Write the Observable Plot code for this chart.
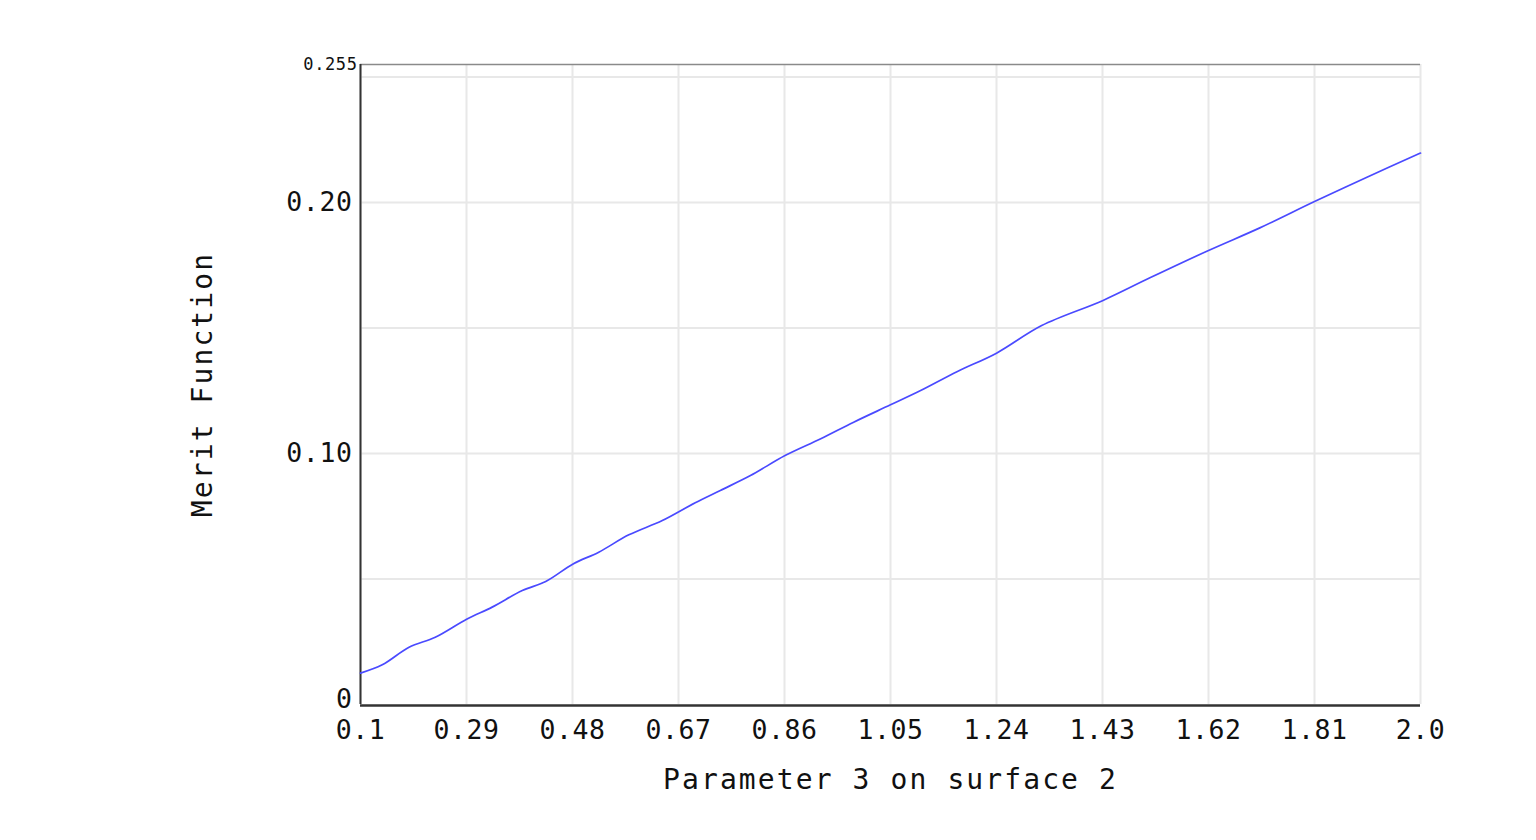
<!DOCTYPE html>
<html>
<head>
<meta charset="utf-8">
<script src="https://cdn.jsdelivr.net/npm/d3@7"></script>
<script src="https://cdn.jsdelivr.net/npm/@observablehq/plot@0.6"></script>
<style>
  html, body { margin: 0; padding: 0; background: #fff; }
</style>
</head>
<body>
<div id="chart"></div>
<script>
const paramValues = [0.1, 0.139, 0.187, 0.234, 0.291, 0.336, 0.390, 0.432, 0.481, 0.527, 0.581, 0.641, 0.700, 0.745, 0.799, 0.861, 0.925, 0.984, 1.050, 1.104, 1.170, 1.240, 1.321, 1.431, 1.515, 1.620, 1.712, 1.810, 1.904, 2.0];
const meritValues = [0.0125, 0.0158, 0.0228, 0.0268, 0.0341, 0.0388, 0.0454, 0.0490, 0.0560, 0.0607, 0.0676, 0.0733, 0.0804, 0.0853, 0.0912, 0.0992, 0.1059, 0.1125, 0.1194, 0.1251, 0.1327, 0.1400, 0.1510, 0.1610, 0.1700, 0.1809, 0.1899, 0.2004, 0.2101, 0.2197];
const xTicks = [0.1, 0.29, 0.48, 0.67, 0.86, 1.05, 1.24, 1.43, 1.62, 1.81, 2.0];
const xTickLabels = ["0.1", "0.29", "0.48", "0.67", "0.86", "1.05", "1.24", "1.43", "1.62", "1.81", "2.0"];
const yGridValues = [0.05, 0.10, 0.15, 0.20, 0.25];
const yTicks = [0.10, 0.20];
const yTickLabels = ["0.10", "0.20"];
const yZeroTick = [0];
const yZeroLabel = ["0"];
const yMaxTick = [0.255];
const yMaxLabel = ["0.255"];
const xTitle = "Parameter 3 on surface 2";
const yTitle = "Merit Function";

const data = paramValues.map((x, i) => ({x, y: meritValues[i]}));

const chart = Plot.plot({
  width: 1536,
  height: 840,
  marginLeft: 360,
  marginRight: 116,
  marginTop: 64,
  marginBottom: 136,
  style: {fontFamily: "'DejaVu Sans Mono', monospace", background: "#fff", color: "#111"},
  x: {domain: [0.1, 2.0]},
  y: {domain: [0, 0.255]},
  marks: [
    Plot.gridX(xTicks, {stroke: "#e8e8e8", strokeOpacity: 1, strokeWidth: 2}),
    Plot.gridY(yGridValues, {stroke: "#e8e8e8", strokeOpacity: 1, strokeWidth: 2}),
    Plot.ruleY(yMaxTick, {stroke: "#8a8a8a", strokeWidth: 1.5}),
    Plot.ruleX([0.1], {stroke: "#333", strokeWidth: 2}),
    Plot.ruleY([0], {stroke: "#333", strokeWidth: 2.5, dy: 1}),
    Plot.line(data, {x: "x", y: "y", stroke: "#4a4aff", strokeWidth: 1.7, curve: "catmull-rom"}),
    Plot.axisX(xTicks, {tickSize: 0, tickPadding: 16, fontSize: 26.5, tickFormat: (d, i) => xTickLabels[i], label: null}),
    Plot.axisY(yTicks, {tickSize: 0, tickPadding: 8, fontSize: 26.5, dy: 0, tickFormat: (d, i) => yTickLabels[i], label: null}),
    Plot.axisY(yZeroTick, {tickSize: 0, tickPadding: 8, fontSize: 26.5, dy: -5, tickFormat: (d, i) => yZeroLabel[i], label: null}),
    Plot.axisY(yMaxTick, {tickSize: 0, tickPadding: 3, fontSize: 17, tickFormat: (d, i) => yMaxLabel[i], label: null}),
    Plot.text([xTitle], {frameAnchor: "bottom", dy: 76, lineAnchor: "middle", textAnchor: "middle", fontSize: 28, className: "xtitle"}),
    Plot.text([yTitle], {frameAnchor: "left", dx: -157, rotate: -90, lineAnchor: "middle", textAnchor: "middle", fontSize: 28, className: "ytitle"})
  ]
});

document.getElementById("chart").appendChild(chart);
d3.select(chart).selectAll(".xtitle text, .ytitle text").style("letter-spacing", "2.1px");
d3.select(chart).selectAll("[aria-label='y-axis tick label'] text, [aria-label='x-axis tick label'] text").style("letter-spacing", "0.6px");
</script>
</body>
</html>
